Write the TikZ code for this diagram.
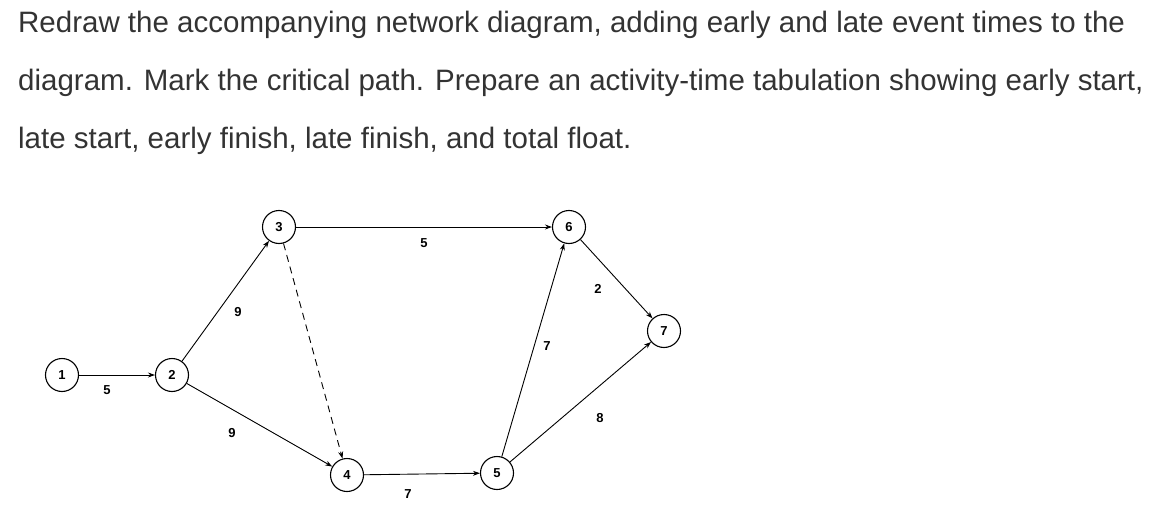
\documentclass[tikz,border=0pt]{standalone}
\usepackage{fontspec}
\setmainfont{Liberation Sans}
\usetikzlibrary{arrows.meta}
\definecolor{txt}{HTML}{333333}
\begin{document}
\begin{tikzpicture}[x=1pt,y=-1pt,
  ev/.style={circle,draw,line width=1.1pt,minimum size=33pt,inner sep=0pt,font=\fontsize{13}{13}\selectfont\bfseries},
  act/.style={draw,line width=0.9pt,-{Stealth[length=7pt,width=5pt]}},
  lbl/.style={font=\fontsize{13}{13}\selectfont\bfseries},
  para/.style={anchor=west,text=txt,font=\fontsize{29.5}{29.5}\selectfont,inner sep=0pt}]
\useasboundingbox (0,0) rectangle (1170,527);
\node[para] (l1) at (18,25) {Redraw the accompanying network diagram, adding early and late event times to the};
\node[para] (l2) at (18,83) {diagram. Mark the critical path. Prepare an activity-time tabulation showing early start,};
\node[para] (l3) at (18,141) {late start, early finish, late finish, and total float.};
\node[ev] (n1) at (62,375) {1};
\node[ev] (n2) at (172,375) {2};
\node[ev] (n3) at (279,227) {3};
\node[ev] (n4) at (347,475) {4};
\node[ev] (n5) at (497,473) {5};
\node[ev] (n6) at (569,227) {6};
\node[ev] (n7) at (664,331) {7};
\draw[act] (n1) -- (n2);
\draw[act] (n2) -- (n3);
\draw[act] (n2) -- (n4);
\draw[act,dash pattern=on 7pt off 5pt] (n3) -- (n4);
\draw[act] (n3) -- (n6);
\draw[act] (n4) -- (n5);
\draw[act] (n5) -- (n6);
\draw[act] (n6) -- (n7);
\draw[act] (n5) -- (n7);
\node[lbl] (a1) at (107,390) {5};
\node[lbl] (a2) at (238,312) {9};
\node[lbl] (a3) at (232,433) {9};
\node[lbl] (a4) at (424,243) {5};
\node[lbl] (a5) at (408,494) {7};
\node[lbl] (a6) at (547,346) {7};
\node[lbl] (a7) at (598,289) {2};
\node[lbl] (a8) at (600,418) {8};
\end{tikzpicture}
\end{document}
